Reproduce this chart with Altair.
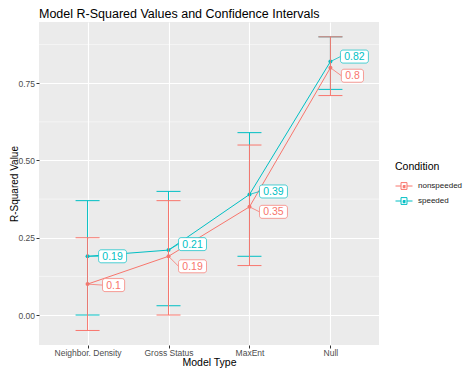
import altair as alt
import pandas as pd

# ---------------- data ----------------
models = ["Neighbor. Density", "Gross Status", "MaxEnt", "Null"]
conditions = ["nonspeeded", "speeded"]
r2_nonspeeded = [0.10, 0.19, 0.35, 0.80]
lo_nonspeeded = [-0.05, 0.00, 0.16, 0.71]
hi_nonspeeded = [0.25, 0.37, 0.55, 0.90]
r2_speeded = [0.19, 0.21, 0.39, 0.82]
lo_speeded = [0.00, 0.03, 0.19, 0.73]
hi_speeded = [0.37, 0.40, 0.59, 0.90]
y_breaks = [0.0, 0.25, 0.50, 0.75]
y_minor_breaks = [0.125, 0.375, 0.625, 0.875]
chart_title = "Model R-Squared Values and Confidence Intervals"

# ---------------- styling ----------------
colors = ["#F8766D", "#00BFC4"]
FONT = "Liberation Sans"
# repelled-label nudges in pixels (dx, dy) per condition, per model
label_nudge = {
    "nonspeeded": [(26, 1), (24, 10), (24, 5), (22, 8)],
    "speeded": [(25, 0), (24, -6), (24, -3), (24, -5)],
}

rows = []
for cond, r2, lo, hi in [("nonspeeded", r2_nonspeeded, lo_nonspeeded, hi_nonspeeded),
                         ("speeded", r2_speeded, lo_speeded, hi_speeded)]:
    for m, v, l, h in zip(models, r2, lo, hi):
        rows.append(dict(model=m, condition=cond, r2=v, lo=l, hi=h, label=f"{v:g}"))
df = pd.DataFrame(rows)
minor_df = pd.DataFrame({"r2": y_minor_breaks})
title_df = pd.DataFrame({"t": [chart_title]})

yscale = alt.Scale(domain=[-0.097, 0.948], nice=False, zero=False)
xscale = alt.Scale(type="point", domain=models, padding=0.6)

X = alt.X("model:N", scale=xscale, title="Model Type",
          axis=alt.Axis(labelAngle=0, labelFontSize=8.5, labelColor="#4D4D4D",
                        tickColor="#333333", tickSize=3, labelPadding=0.5,
                        domain=False, grid=True, gridColor="white", gridWidth=1.1,
                        titleFontSize=10.5, titleFontWeight="normal", titleColor="black",
                        titlePadding=0))
Y = alt.Y("r2:Q", scale=yscale, title="R-Squared Value",
          axis=alt.Axis(values=y_breaks, format=".2f", labelFontSize=8.5,
                        labelColor="#4D4D4D", tickColor="#333333", tickSize=3,
                        labelPadding=1.5, domain=False, grid=True, gridColor="white",
                        gridWidth=1.1, titleFontSize=10, titleFontWeight="normal",
                        titleColor="black", titleX=-24.5, titleBaseline="middle"))
Ysimple = alt.Y("r2:Q", scale=yscale, title="R-Squared Value")
color_nolegend = alt.Color("condition:N", scale=alt.Scale(domain=conditions, range=colors),
                           legend=None)
# open strokes only (zero-area subpaths) so the key stays unfilled: line + label box
legend_symbol = ("M-1,0H-0.35M0.35,0H1"
                 "M-0.35,-0.4H0.35M0.35,-0.4V0.4M0.35,0.4H-0.35M-0.35,0.4V-0.4"
                 "M0.12,-0.12V0.22M0.12,-0.05H-0.1V0.2H0.12")
color_legend = alt.Color("condition:N", scale=alt.Scale(domain=conditions, range=colors),
                         legend=alt.Legend(title="Condition", orient="none", legendX=356,
                                           legendY=140, symbolType=legend_symbol,
                                           symbolSize=289, symbolStrokeWidth=1,
                                           labelFontSize=8, titleFontSize=10.5,
                                           titleFontWeight="normal", titleColor="black",
                                           labelColor="#1A1A1A", titlePadding=4.5,
                                           labelOffset=5, rowPadding=0, padding=0))

base = alt.Chart(df)

minor = alt.Chart(minor_df).mark_rule(color="white", strokeWidth=0.5).encode(y=Y)

lines = base.mark_line(strokeWidth=1).encode(x=X, y=Ysimple, color=color_legend)
points = base.mark_point(filled=True, size=16, opacity=1).encode(x=X, y=Ysimple,
                                                                  color=color_nolegend)

layers = [minor, lines, points]

for cond, col in [("speeded", colors[1]), ("nonspeeded", colors[0])]:
    src = base.transform_filter(alt.datum.condition == cond)
    layers.append(src.mark_rule(color=col, strokeWidth=1).encode(
        x=X, y=alt.Y("lo:Q", scale=yscale, title="R-Squared Value"), y2="hi"))
    for fld in ["lo", "hi"]:
        layers.append(src.mark_rule(color=col, strokeWidth=1, xOffset=-12, x2Offset=12).encode(
            x=X, x2="model", y=alt.Y(f"{fld}:Q", scale=yscale, title="R-Squared Value")))


def text_width(s, size):
    return sum((0.278 if ch == "." else 0.556) for ch in s) * size


for cond, col in [("nonspeeded", colors[0]), ("speeded", colors[1])]:
    vals = r2_nonspeeded if cond == "nonspeeded" else r2_speeded
    for i, m in enumerate(models):
        dx, dy = label_nudge[cond][i]
        w = text_width(f"{vals[i]:g}", 10.5) + 7.5
        h = 13
        src = base.transform_filter((alt.datum.model == m) & (alt.datum.condition == cond))
        layers.append(src.mark_rule(color=col, strokeWidth=0.8, x2Offset=dx - w / 2,
                                    y2Offset=dy).encode(x=X, x2="model", y=Ysimple, y2="r2"))
        layers.append(src.mark_rect(fill="white", stroke=col, strokeWidth=0.7,
                                    cornerRadius=2.5, xOffset=dx - w / 2, x2Offset=dx + w / 2,
                                    yOffset=dy - h / 2, y2Offset=dy + h / 2).encode(
            x=X, x2="model", y=Ysimple, y2="r2"))
        layers.append(src.mark_text(color=col, fontSize=10.5, dx=dx, dy=dy + 0.5,
                                    align="center", baseline="middle").encode(
            x=X, y=Ysimple, text="label:N"))

title_layer = alt.Chart(title_df).mark_text(
    align="left", baseline="alphabetic", fontSize=12.5, color="black"
).encode(x=alt.value(0), y=alt.value(-4), text="t:N")
layers.append(title_layer)

chart = alt.layer(*layers).properties(
    width=340, height=323,
    padding={"left": 31, "top": 14, "right": 85, "bottom": 27},
    autosize=alt.AutoSizeParams(type="none"),
).configure(font=FONT).configure_view(fill="#EBEBEB", strokeWidth=0)

chart.save("out.html", embed_options={"renderer": "svg", "actions": False})
